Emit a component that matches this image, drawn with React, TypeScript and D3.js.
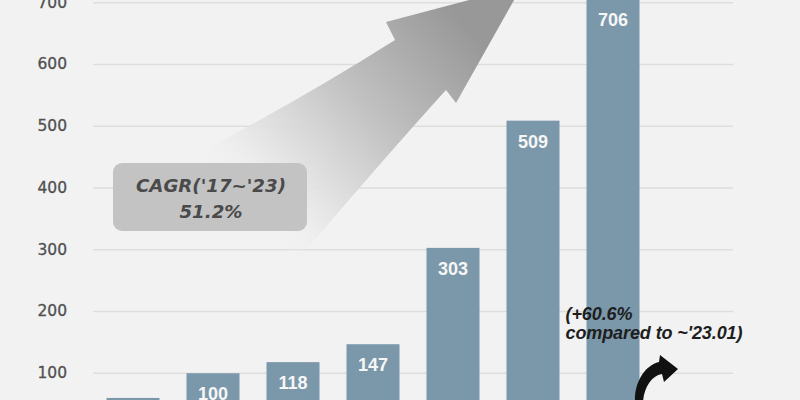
import React from 'react';
import * as d3 from 'd3';

const categories = ['2017', '2018', '2019', '2020', '2021', '2022', '2023', '2024'];
const values = [60, 100, 118, 147, 303, 509, 706];
const yTicks = [100, 200, 300, 400, 500, 600, 700];
const cagrLines = ["CAGR('17~'23)", '51.2%'];
const noteLines = ['(+60.6%', "compared to ~'23.01)"];

const W = 800;
const H = 400;

const App: React.FC = () => {
  const x = d3.scaleBand<string>()
    .domain(categories)
    .range([93, 733])
    .paddingInner(0.3375)
    .paddingOuter(0.16875);

  const y = d3.scaleLinear()
    .domain([0, 700])
    .range([435, 2.7]);

  const bw = x.bandwidth();

  // curved black arrow sits next to the last bar
  const ax = x(categories[7])!;
  const ay = y(0);
  const p = (dx: number, dy: number) => `${ax + dx},${ay + dy}`;
  const curvedArrow =
    `M${p(-31.5, -33)} C${p(-32.5, -50)} ${p(-23.5, -69)} ${p(-7.5, -73)} ` +
    `L${p(-6.5, -80)} L${p(11.5, -66)} L${p(-2.5, -53)} L${p(-4.5, -61)} ` +
    `C${p(-15.5, -59)} ${p(-22.5, -47)} ${p(-23.5, -33)} Z`;

  const noteX = x(categories[6])! - 21;

  return (
    <svg width={W} height={H} style={{ position: 'absolute', left: 0, top: 0 }}>
      <defs>
        <linearGradient id="bigArrow" gradientUnits="userSpaceOnUse" x1={255} y1={225} x2={470} y2={30}>
          <stop offset="0" stopColor="#f2f2f2" stopOpacity={0} />
          <stop offset="0.2" stopColor="#e6e6e6" stopOpacity={0.9} />
          <stop offset="0.55" stopColor="#c2c2c2" />
          <stop offset="1" stopColor="#989898" />
        </linearGradient>
      </defs>
      <rect x={0} y={0} width={W} height={H} fill="#f2f2f2" />

      {/* gridlines */}
      {yTicks.map((t) => (
        <line key={t} x1={93} x2={733} y1={y(t)} y2={y(t)} stroke="#dddddd" strokeWidth={1.5} />
      ))}

      {/* y labels */}
      {yTicks.map((t) => (
        <text
          key={t}
          x={67}
          y={y(t)}
          textAnchor="end"
          dominantBaseline="central"
          fontFamily="DejaVu Sans"
          fontSize={15.5}
          fill="#505050"
          stroke="#505050"
          strokeWidth={0.3}
        >
          {t}
        </text>
      ))}

      {/* big growth arrow */}
      <path
        d="M200,152 Q300,100 395,40 L386,22 L522,-14 L456,103 L446,90 Q378,165 296,262 Z"
        fill="url(#bigArrow)"
      />

      {/* bars */}
      {values.map((v, i) => (
        <rect
          key={categories[i]}
          x={x(categories[i])!}
          y={y(v)}
          width={bw}
          height={y(0) - y(v)}
          fill="#7b98aa"
        />
      ))}
      {values.map((v, i) => (
        <text
          key={'l' + categories[i]}
          x={x(categories[i])! + bw / 2}
          y={y(v) + 27}
          textAnchor="middle"
          fontFamily="Liberation Sans"
          fontWeight="bold"
          fontSize={18}
          fill="#f6f6f6"
        >
          {v}
        </text>
      ))}

      {/* CAGR box */}
      <rect x={113} y={163} width={194} height={68} rx={9} fill="#c3c3c3" />
      {cagrLines.map((s, i) => (
        <text
          key={s}
          x={211}
          y={192 + i * 26}
          textAnchor="middle"
          fontFamily="DejaVu Sans"
          fontStyle="italic"
          fontWeight="bold"
          fontSize={18.2}
          fill="#4a4a4a"
        >
          {s}
        </text>
      ))}

      {/* note */}
      {noteLines.map((s, i) => (
        <text
          key={s}
          x={noteX}
          y={320 + i * 19}
          fontFamily="Liberation Sans"
          fontStyle="italic"
          fontWeight="bold"
          fontSize={18}
          letterSpacing={-0.1}
          fill="#1e1e1e"
        >
          {s}
        </text>
      ))}
      <path d={curvedArrow} fill="#111" />
    </svg>
  );
};

export default App;
